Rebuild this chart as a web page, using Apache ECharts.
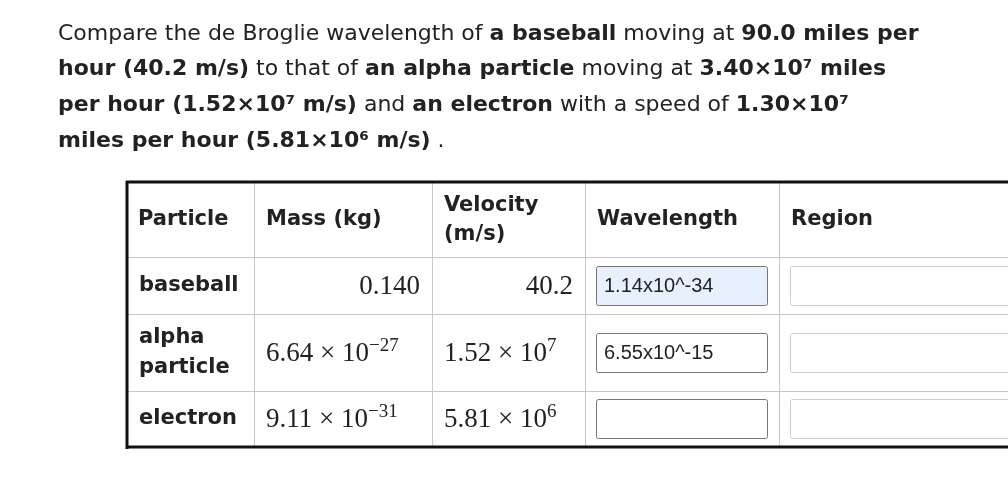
<!DOCTYPE html>
<html><head><meta charset="utf-8">
<script src="https://cdn.jsdelivr.net/npm/echarts@6/dist/echarts.min.js"></script>
<style>html,body{margin:0;background:#fff}#c{width:1008px;height:490px}</style>
</head><body><div id="c"></div>
<script>
const particles = ['baseball', ['alpha', 'particle'], 'electron'];
const massMant = ['0.140', '6.64', '9.11'];
const massExp = [null, '−27', '−31'];
const velMant = ['40.2', '1.52', '5.81'];
const velExp = [null, '7', '6'];
const wavelengths = ['1.14x10^-34', '6.55x10^-15', ''];
const headers = ['Particle', 'Mass (kg)', ['Velocity', '(m/s)'], 'Wavelength', 'Region'];
const paraLines = [
  [['n','Compare the de Broglie wavelength of '],['b','a baseball'],['n',' moving at '],['b','90.0 miles per']],
  [['b','hour (40.2 m/s)'],['n',' to that of '],['b','an alpha particle'],['n',' moving at '],['b','3.40×10⁷ miles']],
  [['b','per hour (1.52×10⁷ m/s)'],['n',' and '],['b','an electron'],['n',' with a speed of '],['b','1.30×10⁷']],
  [['b','miles per hour (5.81×10⁶ m/s)'],['n',' .']]
];

const SANS = 'Verdana, "DejaVu Sans", sans-serif';
const SERIF = '"Liberation Serif", "DejaVu Serif", serif';
const g = [];
const esc = s => s.replace(/[{}|]/g, '');
paraLines.forEach((ln, i) => {
  g.push({type:'text', left:58, top:23 + i*35.7, style:{
    text: ln.map(([k,t]) => '{' + k + '|' + esc(t) + '}').join(''),
    rich:{n:{font:'22px '+SANS, fill:'#222'}, b:{font:'bold 22px '+SANS, fill:'#222'}}
  }});
});
const colX = [126, 254, 432, 585, 779, 1008];
const rowY = [181, 257, 314, 391, 448];
for (let i = 1; i < 5; i++) g.push({type:'line', shape:{x1:colX[i]+0.5,y1:rowY[0],x2:colX[i]+0.5,y2:rowY[4]}, style:{stroke:'#c8c8c8', lineWidth:1}});
for (let i = 1; i < 4; i++) g.push({type:'line', shape:{x1:colX[0],y1:rowY[i]+0.5,x2:1008,y2:rowY[i]+0.5}, style:{stroke:'#c8c8c8', lineWidth:1}});
g.push({type:'line', shape:{x1:126,y1:182,x2:1008,y2:182}, style:{stroke:'#111', lineWidth:3}});
g.push({type:'line', shape:{x1:126,y1:447,x2:1008,y2:447}, style:{stroke:'#111', lineWidth:3}});
g.push({type:'line', shape:{x1:127,y1:181,x2:127,y2:449}, style:{stroke:'#111', lineWidth:3}});
const hb = 'bold 21px ' + SANS;
headers.forEach((h, i) => {
  const txt = Array.isArray(h) ? h.join('\n') : h;
  g.push({type:'text', x:colX[i]+12, y:220, style:{text:txt, font:hb, fill:'#222', verticalAlign:'middle', lineHeight:29}});
});
const rowC = [286, 353, 419];
const rich = {m:{font:'27px '+SERIF, fill:'#222'}, s:{font:'19px '+SERIF, fill:'#222', padding:[0,0,16,0]}};
function mathText(m, e) { return e ? '{m|' + m + ' × 10}{s|' + e + '}' : '{m|' + m + '}'; }
particles.forEach((p, r) => {
  g.push({type:'text', x:139, y:rowC[r], style:{text:Array.isArray(p)?p.join('\n'):p, font:hb, fill:'#222', verticalAlign:'middle', lineHeight:30}});
  const mr = massExp[r] === null;
  g.push({type:'text', x: mr ? 420 : 266, y:rowC[r]+1, style:{text:mathText(massMant[r], massExp[r]), rich, align: mr?'right':'left', verticalAlign:'middle'}});
  const vr = velExp[r] === null;
  g.push({type:'text', x: vr ? 573 : 444, y:rowC[r]+1, style:{text:mathText(velMant[r], velExp[r]), rich, align: vr?'right':'left', verticalAlign:'middle'}});
  const y0 = rowC[r] - 20;
  g.push({type:'rect', shape:{x:596.5,y:y0+0.5,width:171,height:39,r:2}, style:{fill: r===0?'#e8f0fe':'#fff', stroke:'#767676', lineWidth:1}});
  g.push({type:'text', x:604, y:rowC[r], style:{text:wavelengths[r], font:'20px "Liberation Sans", Arial, sans-serif', fill:'#222', verticalAlign:'middle'}});
  g.push({type:'rect', shape:{x:790.5,y:y0+0.5,width:230,height:39,r:2}, style:{fill:'#fff', stroke:'#cfcfcf', lineWidth:1}});
});
const chart = echarts.init(document.getElementById('c'));
chart.setOption({animation:false, graphic:{elements:g}});
</script></body></html>
